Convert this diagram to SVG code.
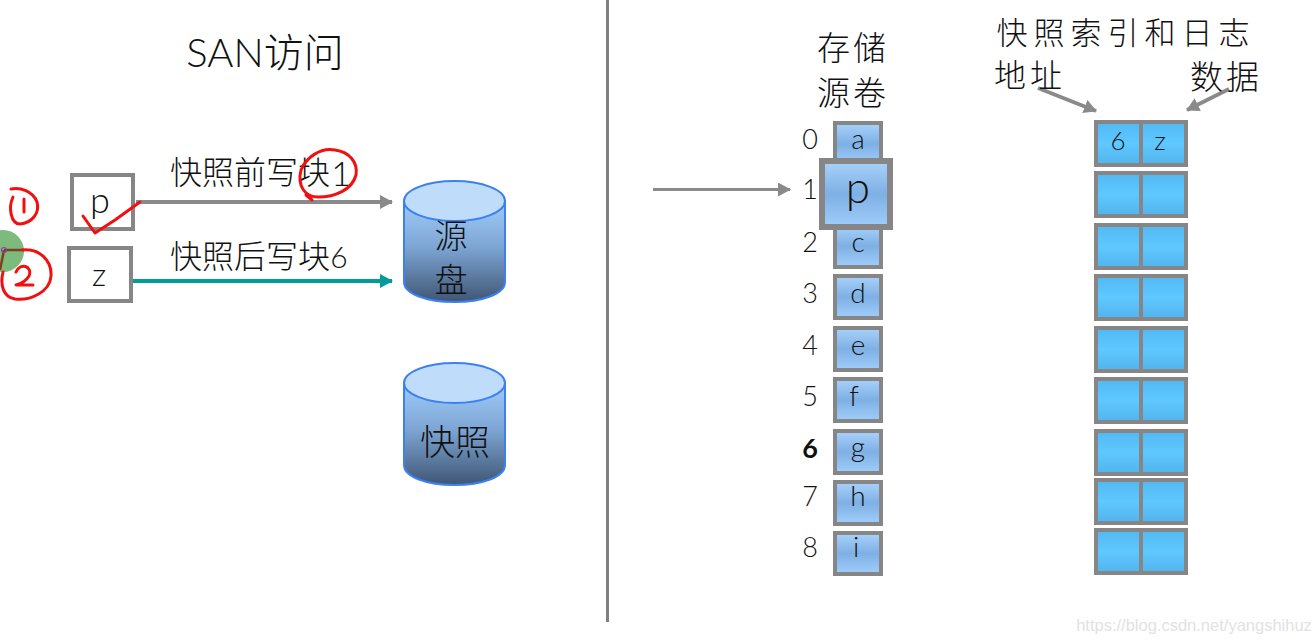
<svg xmlns="http://www.w3.org/2000/svg" xmlns:xlink="http://www.w3.org/1999/xlink" width="1313" height="643" viewBox="0 0 1313 643">
<style>
text{font-family:"Noto Sans CJK SC","Liberation Sans",sans-serif;font-weight:300;fill:#111;text-anchor:middle}
.l{font-family:"Lato","Noto Sans CJK SC",sans-serif;font-weight:300}
.c{font-size:33px;letter-spacing:3px}
.n{font-size:27px;font-family:"Lato",sans-serif;font-weight:300}
.v{font-size:28px;font-family:"Lato",sans-serif;font-weight:300}
.cell{fill:url(#cellG);stroke:#868686;stroke-width:4}
.dcell{fill:url(#dataG);stroke:#868686;stroke-width:4}
.box{fill:#fff;stroke:#868686;stroke-width:4}
.cy{stroke:#3b82f0;stroke-width:2}
.red{fill:none;stroke:#f01010;stroke-width:3;stroke-linecap:round;stroke-linejoin:round}
</style>
<defs>
<linearGradient id="cellG" x1="0" y1="0" x2="0" y2="1"><stop offset="0" stop-color="#a8d2fb"/><stop offset=".5" stop-color="#7fb0e4"/><stop offset="1" stop-color="#a0cefb"/></linearGradient>
<linearGradient id="dataG" x1="0" y1="0" x2="0" y2="1"><stop offset="0" stop-color="#52b8f2"/><stop offset=".5" stop-color="#5fc8ff"/><stop offset="1" stop-color="#52b4ec"/></linearGradient>
<linearGradient id="cylG" x1="0" y1="0" x2="0" y2="1"><stop offset="0" stop-color="#9fcbfa"/><stop offset=".45" stop-color="#7ea6d4"/><stop offset="1" stop-color="#3f5675"/></linearGradient>
<marker id="ag" markerUnits="userSpaceOnUse" markerWidth="16" markerHeight="16" refX="12" refY="7" orient="auto"><path d="M0 0L13 7L0 14z" fill="#8a8a8a"/></marker>
<marker id="at" markerUnits="userSpaceOnUse" markerWidth="16" markerHeight="16" refX="12" refY="7" orient="auto"><path d="M0 0L13 7L0 14z" fill="#009c98"/></marker>
<g id="pair"><rect class="dcell" x="1096" y="0" width="45" height="43"/><rect class="dcell" x="1141" y="0" width="45" height="43"/></g>
</defs>
<rect width="1313" height="643" fill="#fff"/>
<rect x="606" y="0" width="3" height="622" fill="#808080"/>
<g id="watermark"><text x="1194" y="631" style="font-family:'Liberation Sans',sans-serif;font-size:16.500px;fill:#e2e2e2">https://blog.csdn.net/yangshihuz</text></g>
<text x="265" y="67" class="l" style="font-size:40px">SAN访问</text>
<g id="connectors">
<path d="M136 202H392" stroke="#8a8a8a" stroke-width="4" fill="none" marker-end="url(#ag)"/>
<path d="M132 281H392" stroke="#009c98" stroke-width="4" fill="none" marker-end="url(#at)"/>
<path d="M653 189.500H790" stroke="#8a8a8a" stroke-width="3" fill="none" marker-end="url(#ag)"/>
<path d="M1038 88L1096 111" stroke="#8a8a8a" stroke-width="4" fill="none" marker-end="url(#ag)"/>
<path d="M1229 89L1187 110" stroke="#8a8a8a" stroke-width="4" fill="none" marker-end="url(#ag)"/>
</g>
<g id="node-p"><rect class="box" x="72" y="175" width="61" height="54"/><text x="100" y="213" class="l" style="font-size:36px">p</text></g>
<g id="node-z"><rect class="box" x="69" y="248" width="62" height="53"/><text x="99" y="286" class="l" style="font-size:32px">z</text></g>
<text x="250" y="184" style="font-size:32px">快照前写块</text>
<text x="341" y="186" class="l" style="font-size:34px">1</text>
<text x="250" y="268" style="font-size:32px">快照后写块</text>
<text x="339" y="268" class="l" style="font-size:30px">6</text>
<g id="source-disk"><path class="cy" fill="url(#cylG)" d="M404 201V282C404 294 427 302 454.500 302C482 302 505 294 505 282V201z"/><ellipse class="cy" cx="454.500" cy="201" rx="50.500" ry="20" fill="#bfdcfb"/><text x="451" y="248" style="font-size:33px">源</text><text x="451" y="292" style="font-size:33px">盘</text></g>
<g id="snapshot-disk"><path class="cy" fill="url(#cylG)" d="M404 383V465C404 477 427 485 454.500 485C482 485 505 477 505 465V383z"/><ellipse class="cy" cx="454.500" cy="383" rx="50.500" ry="20" fill="#bfdcfb"/><text x="455" y="455" style="font-size:35px">快照</text></g>
<g id="annotations">
<circle cx="3" cy="251" r="21" fill="#7dbb7d"/>
<path d="M4 250H24M4 250L0 270" stroke="#7a4020" stroke-width="2.500" fill="none"/>
<circle cx="4" cy="250" r="2.500" fill="none" stroke="#9040a0" stroke-width="1.200"/>
<path class="red" d="M11 189C20 187 33 191 37 202C40 213 32 223 20 224C11 224 8 208 13 197M24 199V212"/>
<path class="red" d="M22 250C40 248 52 261 51 276C50 292 30 301 15 299C3 297 0 285 3 272M16 272C20 262 33 266 29 276C26 281 20 284 16 285H33"/>
<path class="red" d="M83 216L95 233L115 220L140 202"/>
<path class="red" d="M335 150C320 147 306 158 301 170C297 186 305 197 318 197C335 197 352 190 356 175C358 163 350 152 335 150M306 195L312 200"/>
</g>
<text x="853" y="60" class="c">存储</text>
<text x="853" y="105" class="c">源卷</text>
<text x="1126" y="44" style="font-size:31px;letter-spacing:6px">快照索引和日志</text>
<text x="1030" y="87" style="font-size:32px;letter-spacing:4px">地址</text>
<text x="1226" y="89" class="c">数据</text>
<g id="indices">
<text x="810" y="149" class="n">0</text><text x="810" y="199" class="n">1</text><text x="810" y="252" class="n">2</text><text x="810" y="303" class="n">3</text><text x="810" y="355" class="n">4</text><text x="810" y="406" class="n">5</text><text x="810" y="458" class="n" style="font-weight:700">6</text><text x="810" y="506" class="n">7</text><text x="810" y="557" class="n">8</text>
</g>
<g id="volume">
<rect class="cell" x="835" y="123" width="46" height="42"/><text x="858" y="149" class="v">a</text>
<rect class="cell" x="835" y="225" width="46" height="42"/><text x="858" y="252" class="v">c</text>
<rect class="cell" x="835" y="276" width="46" height="42"/><text x="858" y="303" class="v">d</text>
<rect class="cell" x="835" y="328" width="46" height="42"/><text x="858" y="355" class="v">e</text>
<rect class="cell" x="835" y="379" width="46" height="42"/><text x="854" y="406" class="v">f</text>
<rect class="cell" x="835" y="431" width="46" height="42"/><text x="858" y="457" class="v">g</text>
<rect class="cell" x="835" y="482" width="46" height="42"/><text x="858" y="506" class="v">h</text>
<rect class="cell" x="835" y="533" width="46" height="41"/><text x="856" y="557" class="v">i</text>
<rect class="cell" x="822" y="161" width="68" height="66" style="stroke-width:6"/><text x="858" y="203" class="l" style="font-size:44px">p</text>
</g>
<g id="snapshot-table">
<use xlink:href="#pair" y="122"/><text x="1118" y="150" class="l" style="font-size:26px">6</text><text x="1160" y="150" class="l" style="font-size:26px">z</text>
<use xlink:href="#pair" y="173"/>
<use xlink:href="#pair" y="225"/>
<use xlink:href="#pair" y="276"/>
<use xlink:href="#pair" y="328"/>
<use xlink:href="#pair" y="379"/>
<use xlink:href="#pair" y="431"/>
<use xlink:href="#pair" y="480"/>
<use xlink:href="#pair" y="530"/>
</g>
</svg>
